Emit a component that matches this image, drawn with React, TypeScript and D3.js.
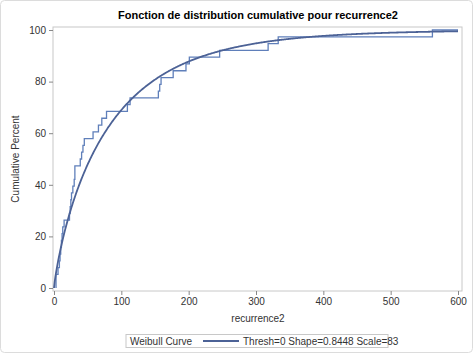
import * as d3 from "d3";
import { useEffect, useRef } from "react";

const recurrence = [
  3, 3, 6, 8, 9, 10, 11, 12, 13, 15, 23, 24, 25, 26, 28, 30, 31, 31, 39, 41,
  43, 45, 58, 66, 71, 78, 109, 113, 155, 157, 159, 177, 196, 201, 246, 318,
  333, 562,
];
const xTicks = [0, 100, 200, 300, 400, 500, 600];
const yTicks = [0, 20, 40, 60, 80, 100];
const weibull = { thresh: 0, shape: 0.8448, scale: 83 };

const width = 474;
const height = 355;
const frame = { left: 53, right: 462, top: 27, bottom: 291 };
const font = "'Liberation Sans', Arial, sans-serif";

function drawChart(node: SVGSVGElement) {
  const svg = d3.select(node);
  svg.selectAll("*").remove();

  const x = d3.scaleLinear().domain([0, 600]).range([54, 458]);
  const y = d3.scaleLinear().domain([0, 100]).range([288, 30]);

  // outer graph border
  svg
    .append("rect")
    .attr("x", 0.5)
    .attr("y", 0.5)
    .attr("width", width - 2)
    .attr("height", height - 3)
    .attr("rx", 4)
    .attr("fill", "white")
    .attr("stroke", "#dcdcdc");

  svg
    .append("text")
    .attr("x", 258)
    .attr("y", 19)
    .attr("text-anchor", "middle")
    .style("font-family", font)
    .style("font-weight", "bold")
    .style("font-size", "11px")
    .attr("fill", "#000")
    .text("Fonction de distribution cumulative pour recurrence2");

  // plot frame
  svg
    .append("rect")
    .attr("x", frame.left)
    .attr("y", frame.top)
    .attr("width", frame.right - frame.left)
    .attr("height", frame.bottom - frame.top)
    .attr("fill", "none")
    .attr("stroke", "#c8c8c8");

  // axes
  const xAxis = svg
    .append("g")
    .attr("transform", `translate(0,${frame.bottom})`)
    .call(d3.axisBottom(x).tickValues(xTicks).tickSize(4).tickPadding(3));
  xAxis.select(".domain").remove();
  xAxis.selectAll("line").attr("stroke", "#888");
  xAxis
    .selectAll("text")
    .attr("fill", "#333")
    .style("font-family", font)
    .style("font-size", "10px");

  const yAxis = svg
    .append("g")
    .attr("transform", `translate(${frame.left},0)`)
    .call(d3.axisLeft(y).tickValues(yTicks).tickSize(4).tickPadding(3));
  yAxis.select(".domain").remove();
  yAxis.selectAll("line").attr("stroke", "#888");
  yAxis
    .selectAll("text")
    .attr("fill", "#333")
    .style("font-family", font)
    .style("font-size", "10px");

  svg
    .append("text")
    .attr("x", 258)
    .attr("y", 322)
    .attr("text-anchor", "middle")
    .style("font-family", font)
    .style("font-size", "10px")
    .attr("fill", "#333")
    .text("recurrence2");

  svg
    .append("text")
    .attr("transform", `translate(19,${(frame.top + frame.bottom) / 2})rotate(-90)`)
    .attr("text-anchor", "middle")
    .style("font-family", font)
    .style("font-size", "10px")
    .attr("fill", "#333")
    .text("Cumulative Percent");

  // empirical cdf as steps: flat until the next observation, then jump
  const n = recurrence.length;
  const steps: [number, number][] = [[recurrence[0], 0]];
  recurrence.forEach((v, i) => steps.push([v, ((i + 1) / n) * 100]));
  steps.push([x.domain()[1], 100]);

  const stepLine = d3
    .line<[number, number]>()
    .x((d) => x(d[0]))
    .y((d) => y(d[1]))
    .curve(d3.curveStepAfter);

  svg
    .append("path")
    .datum(steps)
    .attr("d", stepLine)
    .attr("fill", "none")
    .attr("stroke", "#5f7fba")
    .attr("stroke-width", 1.3);

  // fitted weibull curve
  const cdf = (t: number) =>
    t <= weibull.thresh
      ? 0
      : 100 * (1 - Math.exp(-Math.pow((t - weibull.thresh) / weibull.scale, weibull.shape)));
  const grid = d3.range(0, 600.5, 1);
  svg
    .append("path")
    .datum(grid)
    .attr(
      "d",
      d3
        .line<number>()
        .x((d) => x(d))
        .y((d) => y(cdf(d)))
    )
    .attr("fill", "none")
    .attr("stroke", "#4c6296")
    .attr("stroke-width", 1.8);

  // legend
  const legend = svg.append("g");
  legend
    .append("rect")
    .attr("x", 126)
    .attr("y", 334.5)
    .attr("width", 262)
    .attr("height", 13)
    .attr("fill", "white")
    .attr("stroke", "#c8c8c8");
  legend
    .append("text")
    .attr("x", 130)
    .attr("y", 344.5)
    .style("font-family", font)
    .style("font-size", "10px")
    .attr("fill", "#333")
    .text("Weibull Curve");
  legend
    .append("line")
    .attr("x1", 203)
    .attr("x2", 239)
    .attr("y1", 341)
    .attr("y2", 341)
    .attr("stroke", "#4c6296")
    .attr("stroke-width", 1.8);
  legend
    .append("text")
    .attr("x", 243)
    .attr("y", 344.5)
    .style("font-family", font)
    .style("font-size", "10px")
    .attr("fill", "#333")
    .text(
      `Thresh=${weibull.thresh} Shape=${weibull.shape} Scale=${weibull.scale}`
    );
}

export default function App() {
  const ref = useRef<SVGSVGElement>(null);

  useEffect(() => {
    if (ref.current) drawChart(ref.current);
  }, []);

  return (
    <svg
      ref={ref}
      width={width}
      height={height}
      style={{ position: "absolute", left: 0, top: 0 }}
    />
  );
}
